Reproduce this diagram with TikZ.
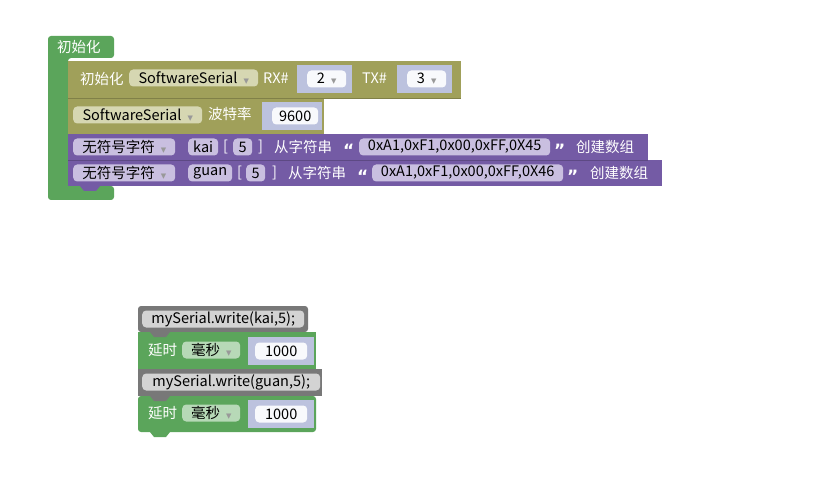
\documentclass[tikz,border=0pt]{standalone}
\usepackage{fontspec}
\setmainfont{Noto Sans CJK SC}
\newfontfamily\symf{DejaVu Sans}
\definecolor{gr}{HTML}{5BA55B}
\definecolor{grl}{HTML}{B7D9B7}
\definecolor{ol}{HTML}{A0A05A}
\definecolor{oll}{HTML}{D6D7B2}
\definecolor{pu}{HTML}{745BA5}
\definecolor{pul}{HTML}{C9BFE0}
\definecolor{gy}{HTML}{787878}
\definecolor{gyl}{HTML}{D3D3D3}
\definecolor{slot}{HTML}{BCC2DE}
\newcommand{\dd}{\hspace{6pt}{\symf\fontsize{7}{7}\selectfont\textcolor{black!40}{▼}}}
\begin{document}
\begin{tikzpicture}[x=1pt,y=-1pt,font=\fontsize{14.5}{15}\selectfont,
  blk/.style={rounded corners=3pt},
  fld/.style={anchor=west,rounded corners=4pt,minimum height=17,inner xsep=4pt,inner ysep=0pt,text=black},
  lbl/.style={anchor=west,text=white,inner sep=0pt},
  qt/.style={lbl,font=\symf\bfseries\fontsize{17}{17}\selectfont},
  slotbox/.style={anchor=west,fill=slot,minimum height=28,inner sep=0pt}]
\useasboundingbox (0,0) rectangle (826,478);
% outer green
\fill[gr,blk] (48,36) -- (114,36) -- (114,58) -- (68,58) -- (68,186) -- (114,186) -- (114,200) -- (48,200) -- cycle;
\node[lbl] (init) at (57,47) {初始化};
% olive 1
\fill[ol] (68,61) rectangle (461,98);
\node[lbl] (t1) at (80,79) {初始化};
\node[fld,fill=oll,minimum width=129] (d1) at (129,78) {SoftwareSerial\dd};
\node[lbl] (rx) at (263,78) {RX\#};
\node[slotbox,minimum width=55] (s1) at (297,79) {};
\node[fld,fill=white!90!slot,minimum width=39] (f1) at (307,79) {2\dd};
\node[lbl] (tx) at (362,78) {TX\#};
\node[slotbox,minimum width=55] (s2) at (397,79) {};
\node[fld,fill=white!90!slot,minimum width=39] (f2) at (407,79) {3\dd};
% olive 2
\fill[ol] (68,98) rectangle (324,134);
\draw[ol!80!black,line width=0.6] (68,98) -- (461,98);
\node[fld,fill=oll,minimum width=129] (d2) at (73,115) {SoftwareSerial\dd};
\node[lbl] (bd) at (208,114) {波特率};
\node[slotbox,minimum width=60] (s3) at (262,116) {};
\node[fld,fill=white!90!slot,minimum width=46] (f3) at (272,116) {9600};
% purple 1
\fill[pu] (68,134) rectangle (648,160);
\node[fld,fill=pul,minimum width=102] (d3) at (73,147) {无符号字符\dd};
\node[fld,fill=pul,minimum width=30,inner xsep=2pt] (k1) at (188,147) {kai};
\node[lbl] (b1) at (223,147) {[};
\node[fld,fill=pul,minimum width=19,inner xsep=2pt] (n1) at (233,147) {5};
\node[lbl] (b2) at (258,147) {]};
\node[lbl] (c1) at (274,147) {从字符串};
\node[qt] (q1) at (343,150) {“};
\node[fld,fill=pul,minimum width=191,inner xsep=2pt] (v1) at (359,147) {0xA1,0xF1,0x00,0xFF,0X45};
\node[qt] (q2) at (554,150) {”};
\node[lbl] (e1) at (576,147) {创建数组};
% purple 2
\fill[pu] (68,160) rectangle (662,186);
\draw[pu!80!black,line width=0.6] (68,160) -- (648,160);
\node[fld,fill=pul,minimum width=102] (d4) at (73,173) {无符号字符\dd};
\node[fld,fill=pul,minimum width=44,inner xsep=2pt] (k2) at (188,173) {guan};
\node[lbl] (b3) at (237,173) {[};
\node[fld,fill=pul,minimum width=19,inner xsep=2pt] (n2) at (246,173) {5};
\node[lbl] (b4) at (272,173) {]};
\node[lbl] (c2) at (288,173) {从字符串};
\node[qt] (q3) at (357,176) {“};
\node[fld,fill=pul,minimum width=191,inner xsep=2pt] (v2) at (372,173) {0xA1,0xF1,0x00,0xFF,0X46};
\node[qt] (q4) at (567,176) {”};
\node[lbl] (e2) at (590,173) {创建数组};
\fill[pu] (80,186) -- (84,191) -- (96,191) -- (100,186) -- cycle;
% lower stack
\fill[gy,blk] (138,306) rectangle (308,332);
\node[fld,fill=gyl,minimum width=162,inner xsep=2pt] (w1) at (142,319) {mySerial.write(kai,5);};
\fill[gr] (138,332) rectangle (316,369);
\node[lbl] (y1) at (148,350) {延时};
\node[fld,fill=grl,minimum width=58] (ms1) at (182,350) {毫秒\dd};
\node[slotbox,minimum width=66] (s4) at (248,351) {};
\node[fld,fill=white!90!slot,minimum width=52] (f4) at (255,351) {1000};
\fill[gy] (138,369) rectangle (322,396);
\node[fld,fill=gyl,minimum width=178,inner xsep=2pt] (w2) at (142,382) {mySerial.write(guan,5);};
\fill[gr,blk] (138,396) -- (316,396) -- (316,432) -- (138,432) -- cycle;
\node[lbl] (y2) at (148,413) {延时};
\node[fld,fill=grl,minimum width=58] (ms2) at (182,413) {毫秒\dd};
\node[slotbox,minimum width=66] (s5) at (248,414) {};
\node[fld,fill=white!90!slot,minimum width=52] (f5) at (255,414) {1000};
\fill[gy] (150,332) -- (154,337) -- (166,337) -- (170,332) -- cycle;
\fill[gy] (150,396) -- (154,401) -- (166,401) -- (170,396) -- cycle;
\fill[gr] (150,432) -- (154,437) -- (166,437) -- (170,432) -- cycle;
\end{tikzpicture}
\end{document}
